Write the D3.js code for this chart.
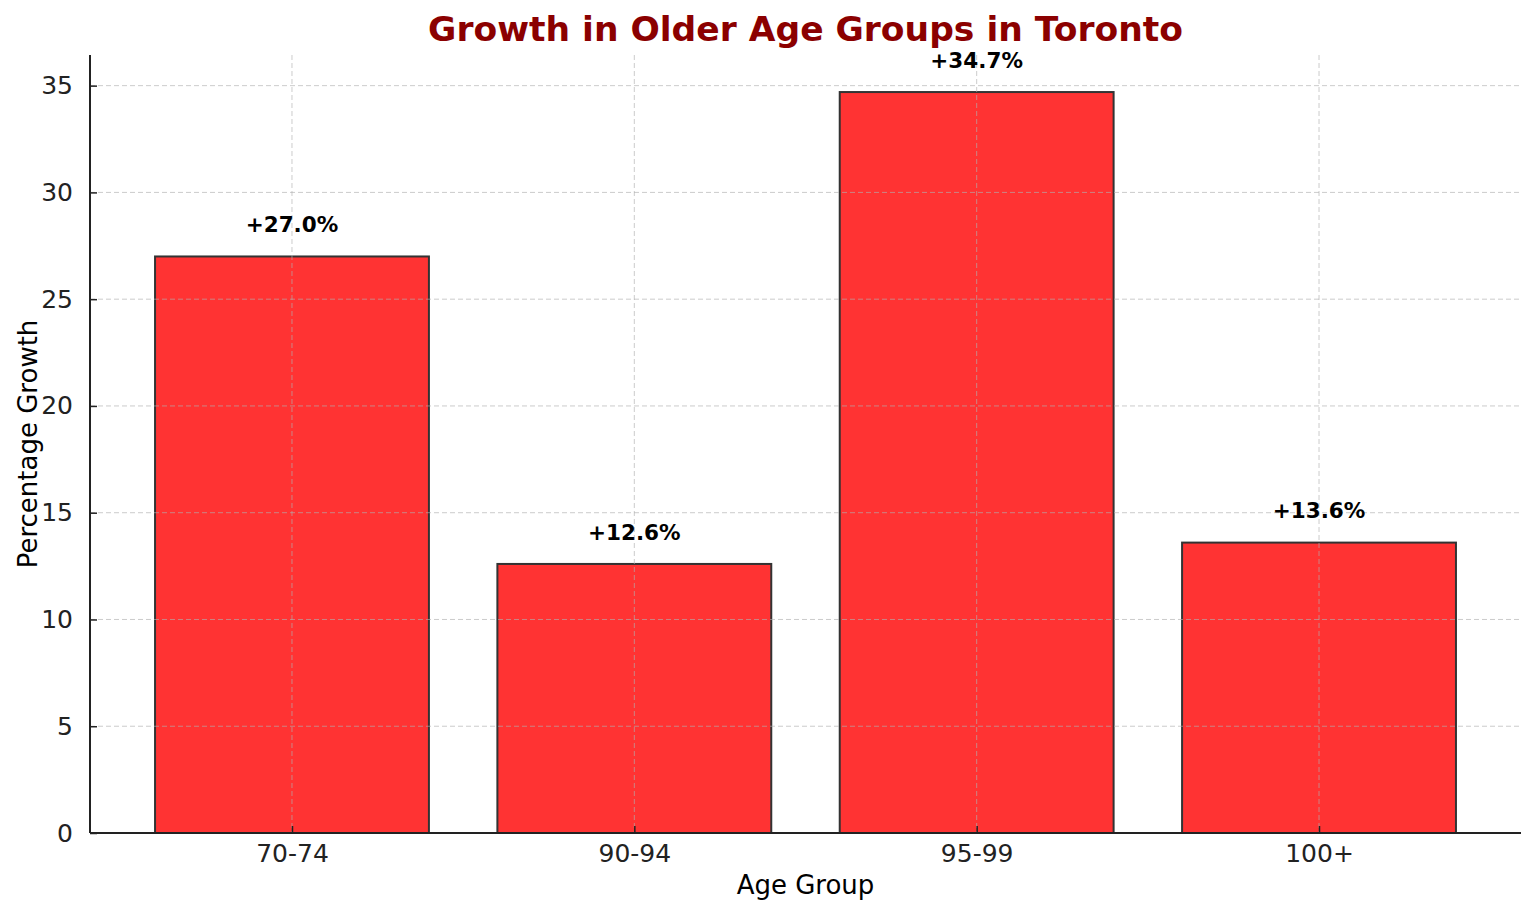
<!DOCTYPE html>
<html>
<head>
<meta charset="utf-8">
<script src="https://cdn.jsdelivr.net/npm/d3@7"></script>
<style>
  body { margin: 0; background: #fff; }
  text { font-family: "DejaVu Sans", sans-serif; }
</style>
</head>
<body>
<div id="chart"></div>
<script>
const ageGroups = ["70-74", "90-94", "95-99", "100+"];
const growth = [27.0, 12.6, 34.7, 13.6];
const yTicks = [0, 5, 10, 15, 20, 25, 30, 35];

const width = 1536, height = 916;
const mLeft = 90, mRight = 1521, mTop = 55, mBottom = 833;

const svg = d3.select("#chart").append("svg")
    .attr("width", width)
    .attr("height", height);

// linear x so the margins match matplotlib's (-0.59 .. 3.59)
const x = d3.scaleLinear().domain([-0.59, 3.59]).range([mLeft, mRight]);
const y = d3.scaleLinear().domain([0, d3.max(growth) * 1.05]).range([mBottom, mTop]);
const barW = x(0.8) - x(0);

// bars
svg.append("g").selectAll("rect")
    .data(growth)
    .enter().append("rect")
        .attr("x", (d, i) => x(i) - barW / 2)
        .attr("y", d => y(d))
        .attr("width", barW)
        .attr("height", d => y(0) - y(d))
        .attr("fill", "#ff3333")
        .attr("stroke", "#333")
        .attr("stroke-width", 2);

// grid on top of bars
const grid = svg.append("g")
    .attr("stroke", "#b0b0b0")
    .attr("stroke-opacity", 0.65)
    .attr("stroke-width", 1)
    .attr("stroke-dasharray", "5,3");
grid.selectAll(".gy").data(yTicks).enter().append("line")
    .attr("x1", mLeft).attr("x2", mRight)
    .attr("y1", d => y(d)).attr("y2", d => y(d));
grid.selectAll(".gx").data(ageGroups).enter().append("line")
    .attr("x1", (d, i) => x(i)).attr("x2", (d, i) => x(i))
    .attr("y1", mTop).attr("y2", mBottom);

// value labels
svg.append("g").selectAll("text")
    .data(growth)
    .enter().append("text")
        .attr("x", (d, i) => x(i))
        .attr("y", d => y(d + 1) - 3)
        .attr("text-anchor", "middle")
        .attr("font-size", 21.5)
        .attr("font-weight", "bold")
        .attr("fill", "#000")
        .text(d => "+" + d.toFixed(1) + "%");

// y axis
const yAxis = svg.append("g")
    .attr("transform", `translate(${mLeft},0)`)
    .call(d3.axisLeft(y).tickValues(yTicks).tickSize(-7).tickPadding(17));
yAxis.select(".domain").attr("stroke", "#222").attr("stroke-width", 2).attr("d", `M0,${mTop}V${mBottom}`);
yAxis.selectAll(".tick line").attr("stroke", "#222").attr("stroke-width", 1.5);
yAxis.selectAll(".tick text").attr("font-size", 25).attr("fill", "#222")
    .attr("font-family", "DejaVu Sans");

// x axis
const xAxis = svg.append("g")
    .attr("transform", `translate(0,${mBottom})`)
    .call(d3.axisBottom(x).tickValues([0, 1, 2, 3]).tickFormat(i => ageGroups[i]).tickSize(-7).tickPadding(11));
xAxis.select(".domain").attr("stroke", "#222").attr("stroke-width", 2).attr("d", `M${mLeft},0H${mRight}`);
xAxis.selectAll(".tick line").attr("stroke", "#222").attr("stroke-width", 1.5);
xAxis.selectAll(".tick text").attr("font-size", 25).attr("fill", "#222")
    .attr("font-family", "DejaVu Sans");

// title and axis labels
svg.append("text")
    .attr("x", (mLeft + mRight) / 2)
    .attr("y", 41)
    .attr("text-anchor", "middle")
    .attr("font-size", 34.5)
    .attr("font-weight", "bold")
    .attr("fill", "#8b0000")
    .text("Growth in Older Age Groups in Toronto");

svg.append("text")
    .attr("x", (mLeft + mRight) / 2)
    .attr("y", 894)
    .attr("text-anchor", "middle")
    .attr("font-size", 26)
    .attr("fill", "#000")
    .text("Age Group");

svg.append("text")
    .attr("transform", `translate(37,${(mTop + mBottom) / 2}) rotate(-90)`)
    .attr("text-anchor", "middle")
    .attr("font-size", 26)
    .attr("fill", "#000")
    .text("Percentage Growth");
</script>
</body>
</html>
